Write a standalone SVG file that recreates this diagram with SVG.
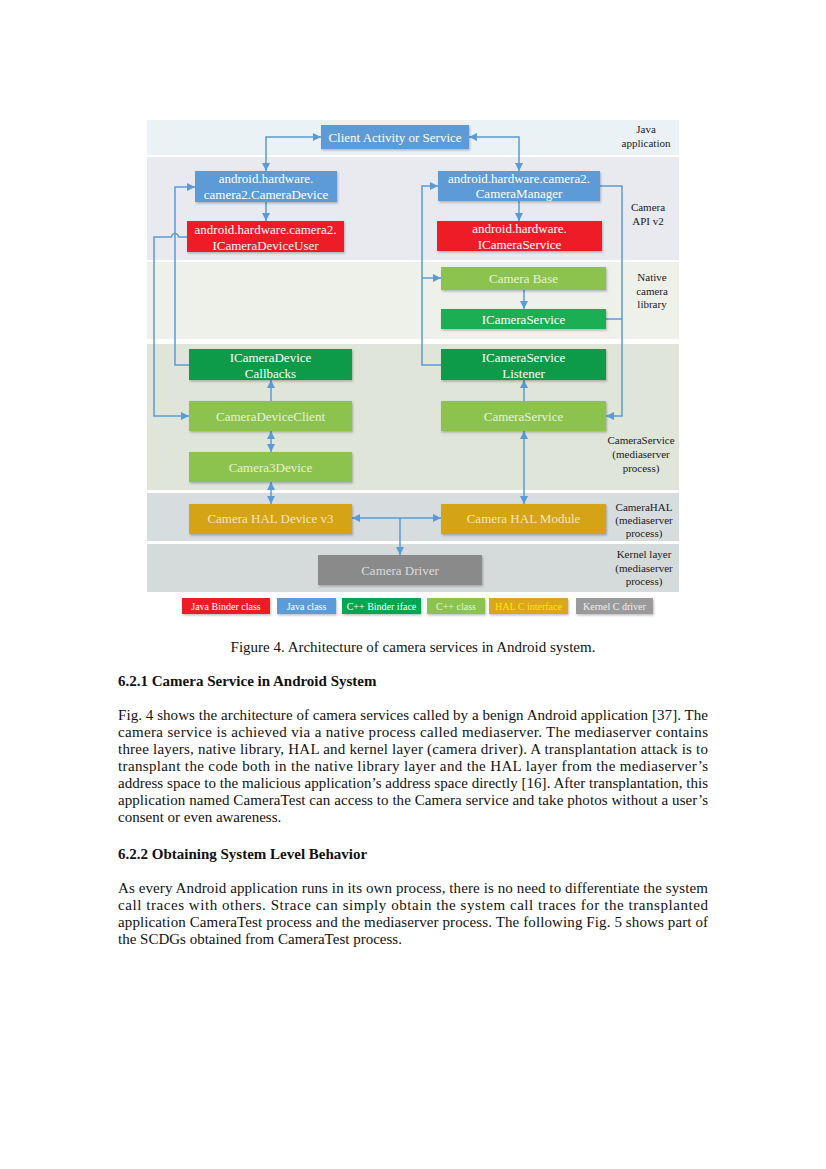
<svg xmlns="http://www.w3.org/2000/svg" width="826" height="1169" viewBox="0 0 826 1169">
<style>
text{font-family:"Liberation Serif","Times New Roman",serif}
.band{stroke:none}
.n{stroke:none;filter:url(#sh)}
.t{font-size:13px;fill:#ffffff;text-anchor:middle}
.tl{font-size:13px;fill:#e6f2d6;text-anchor:middle}
.th{font-size:13px;fill:#f5e6b8;text-anchor:middle}
.tg{font-size:13px;fill:#dcdcdc;text-anchor:middle}
.lay{font-size:11px;fill:#1a1a1a;text-anchor:middle}
.lg{font-size:10px;text-anchor:middle}
.c{fill:none;stroke:#5b9bd5;stroke-width:1.5}
.body{font-size:15px;fill:#111}
.hd{font-size:15px;font-weight:bold;fill:#111}
.blue{fill:#5b9bd5}.red{fill:#ee1c25}.lgreen{fill:#8cc34f}.mgreen{fill:#1fae52}.dgreen{fill:#0f9a48}.gold{fill:#d4a318}.gray{fill:#8a8a8a}
</style>
<defs>
<filter id="sh" x="-10%" y="-10%" width="120%" height="130%">
<feDropShadow dx="1" dy="1.5" stdDeviation="1" flood-color="#000" flood-opacity="0.25"/>
</filter>
<marker id="ah" viewBox="0 0 8 8" refX="8" refY="4" markerWidth="8" markerHeight="8" markerUnits="userSpaceOnUse" orient="auto-start-reverse">
<path d="M0,0 L8,4 L0,8 z" fill="#5b9bd5"/>
</marker>
</defs>
<rect width="826" height="1169" fill="#ffffff"/>
<g id="bands">
<rect class="band" x="147" y="120" width="532" height="35" fill="#eaf2f6"/>
<rect class="band" x="147" y="157" width="532" height="103" fill="#e8eaf0"/>
<rect class="band" x="147" y="262" width="532" height="77" fill="#eef0ea"/>
<rect class="band" x="147" y="344" width="532" height="146" fill="#dfe5d9"/>
<rect class="band" x="147" y="493" width="532" height="48" fill="#d7dcdf"/>
<rect class="band" x="147" y="544" width="532" height="48" fill="#d5dbdb"/>
</g>
<g id="layer-labels">
<text class="lay" x="646" y="133">Java</text>
<text class="lay" x="646" y="147">application</text>
<text class="lay" x="648" y="211">Camera</text>
<text class="lay" x="648" y="225">API v2</text>
<text class="lay" x="652" y="281">Native</text>
<text class="lay" x="652" y="295">camera</text>
<text class="lay" x="652" y="308">library</text>
<text class="lay" x="641" y="444">CameraService</text>
<text class="lay" x="641" y="458">(mediaserver</text>
<text class="lay" x="641" y="472">process)</text>
<text class="lay" x="644" y="511">CameraHAL</text>
<text class="lay" x="644" y="524">(mediaserver</text>
<text class="lay" x="644" y="537">process)</text>
<text class="lay" x="644" y="558">Kernel layer</text>
<text class="lay" x="644" y="572">(mediaserver</text>
<text class="lay" x="644" y="585">process)</text>
</g>
<g id="connectors">
<path class="c" d="M266,171 V137 H321" marker-start="url(#ah)" marker-end="url(#ah)"/>
<path class="c" d="M469,137 H519 V171" marker-start="url(#ah)" marker-end="url(#ah)"/>
<path class="c" d="M266,202 V221" marker-end="url(#ah)"/>
<path class="c" d="M519,201 V221" marker-end="url(#ah)"/>
<path class="c" d="M189,365 H175 V187 H195" marker-end="url(#ah)"/>
<path class="c" d="M187,237 H178.5 A3.5,3.5 0 0 0 171.5,237 H154 V416 H189" marker-end="url(#ah)"/>
<path class="c" d="M441,365 H422 V186 H438" marker-end="url(#ah)"/>
<path class="c" d="M422,278 H441" marker-end="url(#ah)"/>
<path class="c" d="M600,186 H622 V416 H606" marker-end="url(#ah)"/>
<path class="c" d="M606,319 H622"/>
<path class="c" d="M524,290 V309" marker-end="url(#ah)"/>
<path class="c" d="M524,401 V380" marker-end="url(#ah)"/>
<path class="c" d="M524,431 V504" marker-start="url(#ah)" marker-end="url(#ah)"/>
<path class="c" d="M271,401 V380" marker-end="url(#ah)"/>
<path class="c" d="M271,431 V452" marker-start="url(#ah)" marker-end="url(#ah)"/>
<path class="c" d="M271,482 V504" marker-start="url(#ah)" marker-end="url(#ah)"/>
<path class="c" d="M352,518 H441" marker-start="url(#ah)" marker-end="url(#ah)"/>
<path class="c" d="M400,518 V555" marker-end="url(#ah)"/>
</g>
<g id="client"><rect class="n blue" x="321" y="125" width="148" height="24"/><text class="t" x="395" y="141.5">Client Activity or Service</text></g>
<g id="cameraDevice"><rect class="n blue" x="195" y="171" width="142" height="31"/><text class="t" x="266" y="183">android.hardware.</text><text class="t" x="266" y="199">camera2.CameraDevice</text></g>
<g id="iCameraDeviceUser"><rect class="n red" x="187" y="221" width="157" height="31"/><text class="t" x="265.5" y="233.5">android.hardware.camera2.</text><text class="t" x="265.5" y="249.5">ICameraDeviceUser</text></g>
<g id="cameraManager"><rect class="n blue" x="438" y="171" width="162" height="30"/><text class="t" x="519" y="182.5">android.hardware.camera2.</text><text class="t" x="519" y="198">CameraManager</text></g>
<g id="iCameraServiceJava"><rect class="n red" x="437" y="221" width="165" height="30"/><text class="t" x="519.5" y="232.5">android.hardware.</text><text class="t" x="519.5" y="248.5">ICameraService</text></g>
<g id="cameraBase"><rect class="n lgreen" x="441" y="267" width="165" height="23"/><text class="tl" x="523.5" y="282.5">Camera Base</text></g>
<g id="iCameraServiceNative"><rect class="n mgreen" x="441" y="309" width="165" height="20"/><text class="t" x="523.5" y="324">ICameraService</text></g>
<g id="iCameraServiceListener"><rect class="n dgreen" x="441" y="349" width="165" height="31"/><text class="t" x="523.5" y="362">ICameraService</text><text class="t" x="523.5" y="378">Listener</text></g>
<g id="cameraService"><rect class="n lgreen" x="441" y="401" width="165" height="30"/><text class="tl" x="523.5" y="420.5">CameraService</text></g>
<g id="iCameraDeviceCallbacks"><rect class="n dgreen" x="189" y="349" width="163" height="31"/><text class="t" x="270.5" y="362">ICameraDevice</text><text class="t" x="270.5" y="378">Callbacks</text></g>
<g id="cameraDeviceClient"><rect class="n lgreen" x="189" y="401" width="163" height="30"/><text class="tl" x="270.5" y="420.5">CameraDeviceClient</text></g>
<g id="camera3Device"><rect class="n lgreen" x="189" y="452" width="163" height="30"/><text class="tl" x="270.5" y="471.5">Camera3Device</text></g>
<g id="halDevice"><rect class="n gold" x="189" y="504" width="163" height="30"/><text class="th" x="270.5" y="523">Camera HAL Device v3</text></g>
<g id="halModule"><rect class="n gold" x="441" y="504" width="165" height="30"/><text class="th" x="523.5" y="523">Camera HAL Module</text></g>
<g id="cameraDriver"><rect class="n gray" x="318" y="555" width="164" height="30"/><text class="tg" x="400" y="574.5">Camera Driver</text></g>
<g id="legend">
<rect class="n red" x="182" y="598" width="88" height="16"/><text class="lg" x="226" y="610" fill="#ffffff">Java Binder class</text>
<rect class="n blue" x="277" y="598" width="59" height="16"/><text class="lg" x="306.5" y="610" fill="#ffffff">Java class</text>
<rect class="n" x="342" y="598" width="79" height="16" fill="#00a651"/><text class="lg" x="381.5" y="610" fill="#ffffff">C++ Binder iface</text>
<rect class="n lgreen" x="427" y="598" width="58" height="16"/><text class="lg" x="456" y="610" fill="#e6f5d0">C++ class</text>
<rect class="n" x="489" y="598" width="79" height="16" fill="#d9a61a"/><text class="lg" x="528.5" y="610" fill="#ffe600">HAL C interface</text>
<rect class="n" x="576" y="598" width="77" height="16" fill="#9a9a9a"/><text class="lg" x="614.5" y="610" fill="#eeeeee">Kernel C driver</text>
</g>
<g id="text">
<text class="body" x="413" y="652" text-anchor="middle">Figure 4. Architecture of camera services in Android system.</text>
<text class="hd" x="118" y="686">6.2.1 Camera Service in Android System</text>
<text class="body" x="118" y="720" textLength="590" lengthAdjust="spacing">Fig. 4 shows the architecture of camera services called by a benign Android application [37]. The</text>
<text class="body" x="118" y="737" textLength="590" lengthAdjust="spacing">camera service is achieved via a native process called mediaserver. The mediaserver contains</text>
<text class="body" x="118" y="754" textLength="590" lengthAdjust="spacing">three layers, native library, HAL and kernel layer (camera driver). A transplantation attack is to</text>
<text class="body" x="118" y="771" textLength="590" lengthAdjust="spacing">transplant the code both in the native library layer and the HAL layer from the mediaserver’s</text>
<text class="body" x="118" y="788" textLength="590" lengthAdjust="spacing">address space to the malicious application’s address space directly [16]. After transplantation, this</text>
<text class="body" x="118" y="805" textLength="590" lengthAdjust="spacing">application named CameraTest can access to the Camera service and take photos without a user’s</text>
<text class="body" x="118" y="822">consent or even awareness.</text>
<text class="hd" x="118" y="859">6.2.2 Obtaining System Level Behavior</text>
<text class="body" x="118" y="893" textLength="590" lengthAdjust="spacing">As every Android application runs in its own process, there is no need to differentiate the system</text>
<text class="body" x="118" y="910" textLength="590" lengthAdjust="spacing">call traces with others. Strace can simply obtain the system call traces for the transplanted</text>
<text class="body" x="118" y="927" textLength="590" lengthAdjust="spacing">application CameraTest process and the mediaserver process. The following Fig. 5 shows part of</text>
<text class="body" x="118" y="944">the SCDGs obtained from CameraTest process.</text>
</g>
</svg>
